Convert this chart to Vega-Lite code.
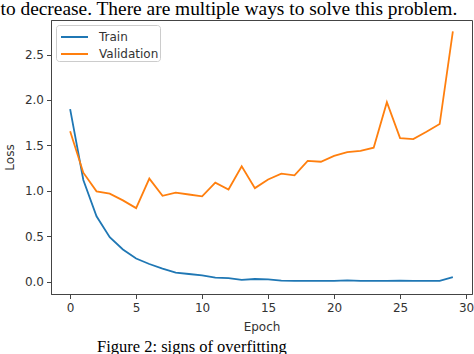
{
  "$schema": "https://vega.github.io/schema/vega-lite/v6.json",
  "width": 421,
  "height": 274,
  "autosize": {"type": "none"},
  "padding": {"left": 51, "top": 20, "right": 2, "bottom": 60},
  "background": "white",
  "config": {
    "view": {"stroke": "#444", "strokeWidth": 1},
    "axis": {"grid": false, "domainColor": "#444", "tickColor": "#444", "labelColor": "#333", "titleColor": "#333", "labelFont": "DejaVu Sans", "titleFont": "DejaVu Sans", "labelFontSize": 12, "titleFontSize": 12, "titleFontWeight": "normal", "tickSize": 4.5}
  },
  "title": {
    "text": "Figure 2: signs of overfitting",
    "orient": "bottom",
    "anchor": "start",
    "frame": "group",
    "font": "Liberation Serif",
    "fontSize": 16.5,
    "fontWeight": "normal",
    "color": "black",
    "baseline": "alphabetic",
    "offset": 19,
    "dx": 46
  },
  "data": {
    "values": [
      {"epoch": 0, "series": "Train", "loss": 1.90},
      {"epoch": 1, "series": "Train", "loss": 1.12},
      {"epoch": 2, "series": "Train", "loss": 0.72},
      {"epoch": 3, "series": "Train", "loss": 0.49},
      {"epoch": 4, "series": "Train", "loss": 0.355},
      {"epoch": 5, "series": "Train", "loss": 0.255},
      {"epoch": 6, "series": "Train", "loss": 0.195},
      {"epoch": 7, "series": "Train", "loss": 0.145},
      {"epoch": 8, "series": "Train", "loss": 0.10},
      {"epoch": 9, "series": "Train", "loss": 0.085},
      {"epoch": 10, "series": "Train", "loss": 0.07},
      {"epoch": 11, "series": "Train", "loss": 0.045},
      {"epoch": 12, "series": "Train", "loss": 0.04},
      {"epoch": 13, "series": "Train", "loss": 0.02},
      {"epoch": 14, "series": "Train", "loss": 0.03},
      {"epoch": 15, "series": "Train", "loss": 0.025},
      {"epoch": 16, "series": "Train", "loss": 0.012},
      {"epoch": 17, "series": "Train", "loss": 0.01},
      {"epoch": 18, "series": "Train", "loss": 0.01},
      {"epoch": 19, "series": "Train", "loss": 0.01},
      {"epoch": 20, "series": "Train", "loss": 0.01},
      {"epoch": 21, "series": "Train", "loss": 0.015},
      {"epoch": 22, "series": "Train", "loss": 0.01},
      {"epoch": 23, "series": "Train", "loss": 0.01},
      {"epoch": 24, "series": "Train", "loss": 0.01},
      {"epoch": 25, "series": "Train", "loss": 0.012},
      {"epoch": 26, "series": "Train", "loss": 0.01},
      {"epoch": 27, "series": "Train", "loss": 0.01},
      {"epoch": 28, "series": "Train", "loss": 0.01},
      {"epoch": 29, "series": "Train", "loss": 0.05},
      {"epoch": 0, "series": "Validation", "loss": 1.655},
      {"epoch": 1, "series": "Validation", "loss": 1.20},
      {"epoch": 2, "series": "Validation", "loss": 0.995},
      {"epoch": 3, "series": "Validation", "loss": 0.97},
      {"epoch": 4, "series": "Validation", "loss": 0.895},
      {"epoch": 5, "series": "Validation", "loss": 0.81},
      {"epoch": 6, "series": "Validation", "loss": 1.135},
      {"epoch": 7, "series": "Validation", "loss": 0.945},
      {"epoch": 8, "series": "Validation", "loss": 0.98},
      {"epoch": 9, "series": "Validation", "loss": 0.96},
      {"epoch": 10, "series": "Validation", "loss": 0.94},
      {"epoch": 11, "series": "Validation", "loss": 1.09},
      {"epoch": 12, "series": "Validation", "loss": 1.015},
      {"epoch": 13, "series": "Validation", "loss": 1.27},
      {"epoch": 14, "series": "Validation", "loss": 1.03},
      {"epoch": 15, "series": "Validation", "loss": 1.125},
      {"epoch": 16, "series": "Validation", "loss": 1.19},
      {"epoch": 17, "series": "Validation", "loss": 1.17},
      {"epoch": 18, "series": "Validation", "loss": 1.33},
      {"epoch": 19, "series": "Validation", "loss": 1.32},
      {"epoch": 20, "series": "Validation", "loss": 1.385},
      {"epoch": 21, "series": "Validation", "loss": 1.425},
      {"epoch": 22, "series": "Validation", "loss": 1.44},
      {"epoch": 23, "series": "Validation", "loss": 1.475},
      {"epoch": 24, "series": "Validation", "loss": 1.975},
      {"epoch": 25, "series": "Validation", "loss": 1.58},
      {"epoch": 26, "series": "Validation", "loss": 1.57},
      {"epoch": 27, "series": "Validation", "loss": 1.65},
      {"epoch": 28, "series": "Validation", "loss": 1.735},
      {"epoch": 29, "series": "Validation", "loss": 2.755}
    ]
  },
  "layer": [
    {
      "mark": {"type": "line", "strokeWidth": 1.8},
      "encoding": {
        "x": {
          "field": "epoch", "type": "quantitative",
          "scale": {"domain": [-1.45, 30.45], "nice": false, "zero": false},
          "axis": {"values": [0, 5, 10, 15, 20, 25, 30], "title": "Epoch", "labelPadding": 4, "titlePadding": 8, "labelFlush": false}
        },
        "y": {
          "field": "loss", "type": "quantitative",
          "scale": {"domain": [-0.135, 2.88], "nice": false, "zero": false},
          "axis": {"values": [0, 0.5, 1, 1.5, 2, 2.5], "format": ".1f", "title": "Loss", "labelPadding": 3, "titlePadding": 8}
        },
        "color": {
          "field": "series", "type": "nominal",
          "scale": {"domain": ["Train", "Validation"], "range": ["#1f77b4", "#ff7f0e"]},
          "legend": {
            "title": null, "orient": "top-left", "offset": 5,
            "fillColor": "white", "strokeColor": "#cccccc", "cornerRadius": 3,
            "padding": 1, "rowPadding": 0,
            "symbolType": "M-0.7,0L2,0", "symbolSize": 400, "symbolStrokeWidth": 2,
            "labelFont": "DejaVu Sans", "labelFontSize": 12, "labelColor": "#333", "labelOffset": 20
          }
        }
      }
    },
    {
      "mark": {"type": "rule", "opacity": 0},
      "encoding": {
        "x": {
          "field": "epoch", "type": "quantitative",
          "scale": {"domain": [-1.45, 30.45], "nice": false, "zero": false},
          "axis": {
            "orient": "top", "domain": false, "ticks": false, "labels": false,
            "title": "to decrease. There are multiple  ways to solve this problem.",
            "titleFont": "Liberation Serif", "titleFontSize": 19.4, "titleColor": "black",
            "titleAnchor": "start", "titleAlign": "left", "titleBaseline": "alphabetic",
            "titleX": -51, "titleY": -6
          }
        }
      }
    }
  ],
  "resolve": {"axis": {"x": "independent"}}
}
